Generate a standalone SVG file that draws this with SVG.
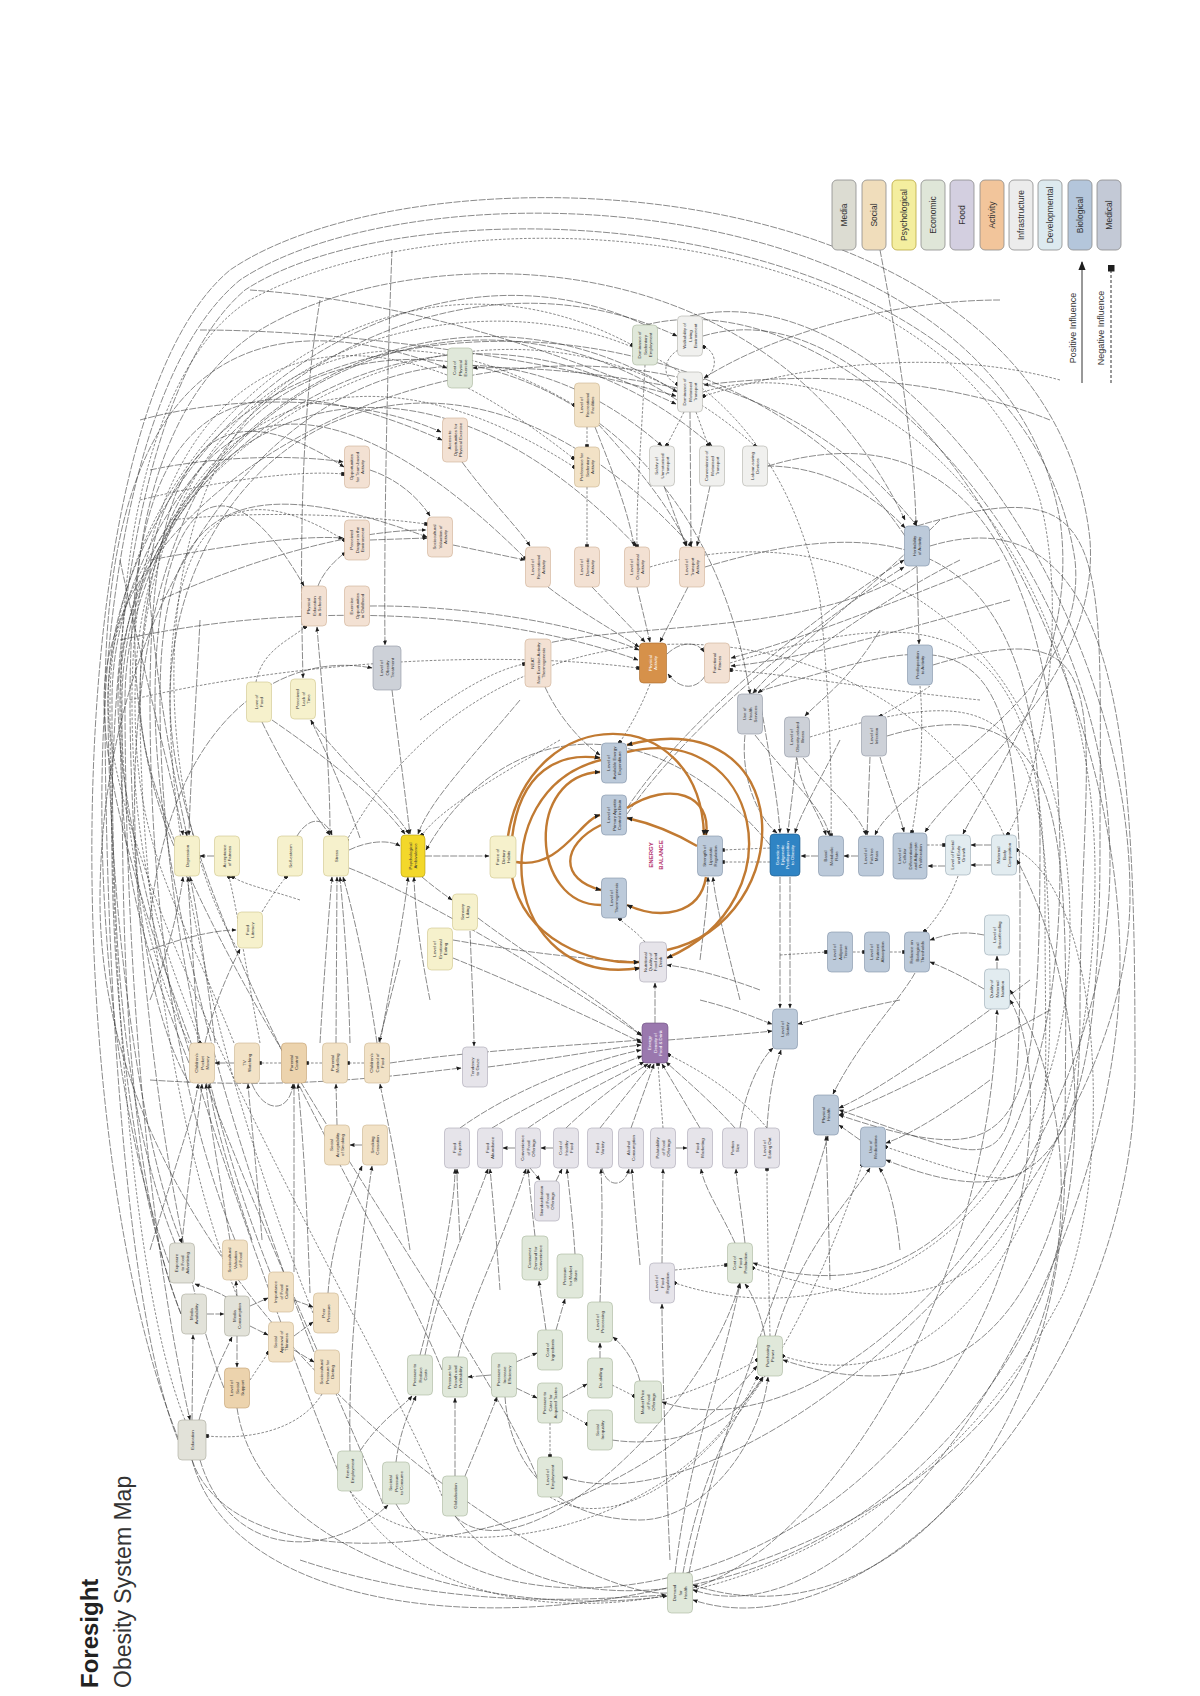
<svg xmlns="http://www.w3.org/2000/svg" width="1200" height="1696" viewBox="0 0 1200 1696">
<defs>
<marker id="a" viewBox="0 0 10 10" refX="9" refY="5" markerWidth="5" markerHeight="5" markerUnits="userSpaceOnUse" orient="auto"><path d="M0,1 L10,5 L0,9 Z" fill="#1e1e1e"/></marker>
<marker id="s" viewBox="0 0 10 10" refX="5" refY="5" markerWidth="3.6" markerHeight="3.6" markerUnits="userSpaceOnUse" orient="auto"><rect x="0" y="0" width="10" height="10" fill="#1e1e1e"/></marker>
<marker id="oa" viewBox="0 0 10 10" refX="9" refY="5" markerWidth="6" markerHeight="6" markerUnits="userSpaceOnUse" orient="auto"><path d="M0,1 L10,5 L0,9 Z" fill="#1e1e1e"/></marker>
<marker id="la" viewBox="0 0 10 10" refX="9" refY="5" markerWidth="9" markerHeight="9" markerUnits="userSpaceOnUse" orient="auto"><path d="M0,1 L10,5 L0,9 Z" fill="#1e1e1e"/></marker>
<marker id="ls" viewBox="0 0 10 10" refX="5" refY="5" markerWidth="7" markerHeight="7" markerUnits="userSpaceOnUse" orient="auto"><rect x="0" y="0" width="10" height="10" fill="#1e1e1e"/></marker>
</defs>
<style>
.p{fill:none;stroke:#3a3a3a;stroke-width:.6;stroke-dasharray:7 1.4;marker-end:url(#a)}
.n{fill:none;stroke:#3a3a3a;stroke-width:.6;stroke-dasharray:2.6 1.6;marker-end:url(#s)}
.o{fill:none;stroke:#c17a32;stroke-width:2.4;marker-end:url(#oa)}
.nd rect{stroke-width:.6}
.nd text{font-family:"Liberation Sans",Arial,sans-serif;font-size:4.4px;fill:#333;text-anchor:middle}
.m rect{fill:#e2e2d9;stroke:#a9a99c}
.so rect{fill:#f2e2c6;stroke:#c9b48e}
.so2 rect{fill:#ecd3ad;stroke:#c2a070}
.ps rect{fill:#f6f1cc;stroke:#cfc58a}
.py rect{fill:#f3d82a;stroke:#b59c10}
.ec rect{fill:#e0e8da;stroke:#a8b69c}
.fd rect{fill:#e6e4ea;stroke:#aaa6b4}
.ac rect{fill:#f3e1d3;stroke:#cfae94}
.pa rect{fill:#d6914a;stroke:#a86a2a}
.in rect{fill:#f0f0ee;stroke:#b0b0aa}
.dv rect{fill:#e2ecf0;stroke:#98aab3}
.bi rect{fill:#bccada;stroke:#7f91a6}
.bb rect{fill:#2f84c4;stroke:#1f5a8a}
.md rect{fill:#cdd1d8;stroke:#8e96a3}
.pu rect{fill:#9a78ae;stroke:#6e5282}
.pa text,.bb text,.pu text{fill:#fff}
.lg rect{stroke:#8a8a8a;stroke-width:.8}
.lg text{font-family:"Liberation Sans",Arial,sans-serif;font-size:8.5px;fill:#333;text-anchor:middle}
.eb{font-family:"Liberation Sans",Arial,sans-serif;font-size:6px;font-weight:bold;fill:#b4326e;text-anchor:middle}
</style>
<rect width="1200" height="1696" fill="#fff"/>

<g id="connectors">
<path class="n" d="M678,350 C662,360 662,378 677,384"/>
<path class="n" d="M703,380 C718,372 718,352 704,347"/>
<path class="n" d="M684,412 L667,445"/>
<path class="n" d="M696,412 L708,445"/>
<path class="p" d="M690,412 L691,546"/>
<path class="p" d="M664,486 L686,546"/>
<path class="p" d="M710,486 L697,546"/>
<path class="p" d="M767,466 C830,466 880,500 905,528"/>
<path class="n" d="M645,365 C642,430 636,500 637,546"/>
<path class="n" d="M587,427 L587,446"/>
<path class="n" d="M587,487 L587,546"/>
<path class="p" d="M595,427 C612,470 628,510 634,546"/>
<path class="p" d="M598,424 C640,470 672,510 687,546"/>
<path class="p" d="M677,388 C600,372 520,366 473,368"/>
<path class="p" d="M462,462 C490,500 520,530 530,546"/>
<path class="p" d="M370,470 C400,480 420,500 430,516"/>
<path class="p" d="M453,545 L525,560"/>
<path class="p" d="M370,540 L427,538"/>
<path class="p" d="M318,586 C324,570 338,558 346,552"/>
<path class="p" d="M370,606 C450,605 570,620 639,650"/>
<path class="p" d="M150,920 C170,720 280,650 372,668"/>
<path class="p" d="M392,690 L410,834"/>
<path class="p" d="M392,250 C386,400 384,560 385,645"/>
<path class="p" d="M330,835 C330,760 322,690 317,627"/>
<path class="p" d="M150,470 C220,455 300,455 343,462"/>
<path class="n" d="M140,500 C220,480 300,470 343,474"/>
<path class="p" d="M150,560 C230,545 300,535 343,538"/>
<path class="p" d="M160,600 C250,560 350,530 426,530"/>
<path class="n" d="M170,520 C260,510 360,515 426,524"/>
<path class="p" d="M140,420 C250,390 370,400 441,432"/>
<path class="p" d="M1050,420 C950,380 820,370 704,385"/>
<path class="n" d="M1060,380 C950,350 820,360 704,396"/>
<path class="p" d="M1000,300 C900,300 780,330 704,378"/>
<path class="p" d="M200,330 C350,330 550,360 676,396"/>
<path class="p" d="M250,290 C400,300 560,350 676,404"/>
<path class="n" d="M468,388 C510,410 550,440 573,458"/>
<path class="p" d="M548,587 C580,612 618,633 639,647"/>
<path class="p" d="M592,587 L645,642"/>
<path class="p" d="M637,587 L650,642"/>
<path class="p" d="M688,587 L660,642"/>
<path class="p" d="M667,654 C682,640 698,642 704,652"/>
<path class="p" d="M705,676 C696,690 680,690 668,674"/>
<path class="n" d="M420,720 C460,690 495,670 524,664"/>
<path class="n" d="M650,684 C640,710 628,730 620,742"/>
<path class="p" d="M545,687 C560,720 585,745 600,755"/>
<path class="p" d="M120,640 C300,600 500,610 638,660"/>
<path class="n" d="M130,700 C300,660 500,650 638,668"/>
<path class="p" d="M1000,560 C900,600 800,640 731,658"/>
<path class="p" d="M1010,600 C900,630 800,660 731,666"/>
<path class="n" d="M980,700 C880,690 790,675 731,670"/>
<path class="p" d="M960,560 C880,600 800,660 758,693"/>
<path class="p" d="M940,520 C860,600 790,650 753,693"/>
<path class="p" d="M745,735 C740,780 760,820 777,833"/>
<path class="p" d="M755,735 C790,780 825,810 829,835"/>
<path class="p" d="M880,630 C850,680 820,700 805,716"/>
<path class="p" d="M797,758 C800,790 820,815 826,835"/>
<path class="p" d="M803,758 C830,790 860,815 866,835"/>
<path class="n" d="M930,686 C910,700 890,710 881,716"/>
<path class="p" d="M870,757 L867,835"/>
<path class="p" d="M880,757 C890,790 900,815 904,832"/>
<path class="n" d="M920,686 C925,740 918,800 912,832"/>
<path class="p" d="M917,567 L919,644"/>
<path class="p" d="M880,250 C905,380 915,470 916,525"/>
<path class="n" d="M927,845 L944,845"/>
<path class="p" d="M945,866 L928,866"/>
<path class="p" d="M991,845 L971,845"/>
<path class="p" d="M991,865 L971,865"/>
<path class="n" d="M958,876 C950,900 935,920 925,931"/>
<path class="n" d="M770,848 L723,850"/>
<path class="n" d="M770,862 L723,862"/>
<path class="p" d="M818,856 L801,856"/>
<path class="p" d="M858,856 L844,856"/>
<path class="n" d="M780,955 L826,952"/>
<path class="n" d="M853,952 L864,952"/>
<path class="n" d="M890,952 L904,952"/>
<path class="p" d="M984,935 C960,930 945,935 930,940"/>
<path class="p" d="M984,989 C960,975 945,968 930,962"/>
<path class="p" d="M997,969 L997,956"/>
<path class="p" d="M915,973 C900,1000 860,1040 833,1094"/>
<path class="p" d="M860,1140 L839,1125"/>
<path class="p" d="M900,1250 C895,1200 885,1175 879,1168"/>
<path class="p" d="M830,1280 C828,1200 827,1160 826,1136"/>
<path class="p" d="M1030,980 C950,1040 880,1090 839,1108"/>
<path class="p" d="M1050,1010 C960,1060 880,1100 839,1115"/>
<path class="p" d="M990,1080 C950,1110 910,1135 886,1143"/>
<path class="p" d="M780,877 L780,1008"/>
<path class="p" d="M790,877 L790,1008"/>
<path class="p" d="M700,1000 C740,1010 760,1020 772,1024"/>
<path class="p" d="M900,1000 C850,1010 815,1020 798,1024"/>
<path class="p" d="M760,700 C770,760 778,800 780,833"/>
<path class="p" d="M800,720 C795,780 790,810 788,833"/>
<path class="p" d="M840,740 C815,790 800,815 795,833"/>
<path class="p" d="M700,960 C705,920 708,895 708,877"/>
<path class="p" d="M740,1000 C725,940 715,900 713,877"/>
<path class="n" d="M645,942 C635,930 625,925 620,919"/>
<path class="p" d="M453,940 C540,955 600,960 638,962"/>
<path class="p" d="M760,990 C720,975 690,968 667,965"/>
<path class="p" d="M627,808 C700,700 840,600 904,560"/>
<path class="p" d="M627,814 C702,706 842,606 904,567"/>
<path class="p" d="M214,856 L200,856"/>
<path class="p" d="M150,1000 C170,950 180,900 183,877"/>
<path class="p" d="M215,1043 C205,960 195,900 190,877"/>
<path class="p" d="M120,560 C150,700 175,790 183,835"/>
<path class="p" d="M200,620 C195,720 190,790 189,835"/>
<path class="n" d="M260,1043 C245,960 235,900 229,877"/>
<path class="n" d="M300,900 C270,890 245,885 233,877"/>
<path class="p" d="M297,836 C310,815 325,818 332,835"/>
<path class="n" d="M262,912 C272,895 282,882 286,877"/>
<path class="p" d="M320,1043 C325,960 330,900 332,877"/>
<path class="p" d="M336,1043 L337,877"/>
<path class="p" d="M350,1043 C348,960 342,900 340,877"/>
<path class="p" d="M377,1043 C365,960 350,900 343,877"/>
<path class="p" d="M262,722 C290,780 315,815 330,835"/>
<path class="p" d="M349,850 C370,840 390,840 400,846"/>
<path class="p" d="M349,868 C430,900 560,980 641,1035"/>
<path class="p" d="M272,720 C330,760 380,800 405,834"/>
<path class="p" d="M310,720 C350,770 395,810 409,834"/>
<path class="p" d="M520,700 C470,760 430,800 418,834"/>
<path class="n" d="M560,740 C490,780 440,810 422,835"/>
<path class="p" d="M380,1043 C395,960 405,910 408,877"/>
<path class="p" d="M430,1000 C420,950 415,910 414,877"/>
<path class="p" d="M425,856 L489,856"/>
<path class="p" d="M422,877 C435,888 445,895 452,900"/>
<path class="p" d="M478,918 C520,950 600,1000 642,1036"/>
<path class="p" d="M453,958 C520,985 600,1022 642,1043"/>
<path class="p" d="M150,950 C190,935 220,930 236,930"/>
<path class="n" d="M256,682 C262,650 290,640 305,627"/>
<path class="p" d="M360,838 C340,780 320,740 311,720"/>
<path class="p" d="M320,300 C300,420 300,560 303,678"/>
<path class="p" d="M234,1063 L215,1063"/>
<path class="n" d="M281,1063 L260,1063"/>
<path class="n" d="M322,1063 L307,1063"/>
<path class="n" d="M364,1063 L348,1063"/>
<path class="p" d="M252,1084 C265,1115 290,1112 293,1084"/>
<path class="p" d="M362,1145 L350,1145"/>
<path class="p" d="M337,1125 L336,1084"/>
<path class="p" d="M150,1250 C180,1150 195,1110 198,1084"/>
<path class="p" d="M182,1243 C190,1160 200,1110 202,1084"/>
<path class="p" d="M230,1240 C215,1150 208,1110 206,1084"/>
<path class="p" d="M252,1240 C225,1160 212,1110 209,1084"/>
<path class="p" d="M205,1043 C215,1000 230,970 240,949"/>
<path class="p" d="M198,1043 C195,980 190,920 188,877"/>
<path class="p" d="M262,1240 C255,1150 250,1110 248,1084"/>
<path class="p" d="M294,1272 L294,1084"/>
<path class="p" d="M310,1293 C305,1150 300,1110 298,1084"/>
<path class="p" d="M410,1250 C395,1150 385,1110 380,1084"/>
<path class="p" d="M400,960 C390,1000 382,1030 379,1042"/>
<path class="p" d="M515,1148 L503,1148"/>
<path class="p" d="M553,1148 L541,1148"/>
<path class="p" d="M676,1148 L687,1148"/>
<path class="p" d="M460,1128 C520,1085 600,1058 641,1050"/>
<path class="p" d="M492,1128 C555,1090 615,1066 642,1056"/>
<path class="p" d="M528,1128 C575,1095 625,1072 644,1062"/>
<path class="p" d="M566,1128 C595,1100 630,1075 648,1064"/>
<path class="p" d="M600,1128 L651,1064"/>
<path class="p" d="M631,1128 L654,1064"/>
<path class="n" d="M663,1128 L658,1064"/>
<path class="p" d="M700,1128 L662,1064"/>
<path class="p" d="M735,1128 C710,1100 680,1075 666,1062"/>
<path class="n" d="M767,1128 C740,1095 700,1070 669,1055"/>
<path class="p" d="M488,1067 C560,1058 610,1048 641,1045"/>
<path class="p" d="M655,1023 L655,983"/>
<path class="p" d="M470,931 C472,980 474,1020 474,1046"/>
<path class="p" d="M150,1080 C300,1090 400,1075 461,1068"/>
<path class="p" d="M530,1168 L540,1180"/>
<path class="p" d="M556,1181 L562,1169"/>
<path class="p" d="M460,1240 C458,1200 457,1185 457,1169"/>
<path class="p" d="M420,1355 C450,1240 455,1190 455,1169"/>
<path class="p" d="M500,1290 C495,1220 492,1190 490,1169"/>
<path class="p" d="M535,1236 C532,1210 530,1190 528,1169"/>
<path class="p" d="M575,1254 C572,1210 569,1190 567,1169"/>
<path class="p" d="M600,1302 C603,1220 602,1190 601,1169"/>
<path class="p" d="M640,1265 C636,1220 633,1190 632,1169"/>
<path class="p" d="M662,1263 L663,1169"/>
<path class="p" d="M735,1243 C720,1210 705,1190 701,1169"/>
<path class="p" d="M745,1243 C740,1200 737,1185 736,1169"/>
<path class="n" d="M770,1336 C768,1250 767,1200 767,1169"/>
<path class="p" d="M602,1168 C607,1188 624,1188 629,1169"/>
<path class="p" d="M767,1128 C770,1080 778,1060 781,1050"/>
<path class="p" d="M740,1128 C745,1090 760,1060 773,1048"/>
<path class="p" d="M390,1063 C480,1050 580,1045 641,1040"/>
<path class="p" d="M668,1040 C720,1036 755,1033 772,1031"/>
<path class="p" d="M491,1375 L468,1377"/>
<path class="p" d="M516,1362 L537,1353"/>
<path class="p" d="M516,1388 L537,1398"/>
<path class="p" d="M562,1398 L587,1384"/>
<path class="n" d="M562,1410 L587,1424"/>
<path class="p" d="M600,1358 L600,1343"/>
<path class="n" d="M612,1385 L634,1396"/>
<path class="n" d="M550,1423 L550,1456"/>
<path class="p" d="M640,1381 C635,1362 625,1347 613,1337"/>
<path class="p" d="M546,1330 L539,1281"/>
<path class="p" d="M556,1330 L565,1299"/>
<path class="p" d="M455,1476 L455,1398"/>
<path class="p" d="M465,1476 C480,1440 492,1410 497,1397"/>
<path class="p" d="M505,1397 C510,1470 560,1520 640,1520 C700,1520 760,1450 768,1377"/>
<path class="p" d="M612,1440 C680,1450 740,1420 763,1377"/>
<path class="n" d="M662,1400 C700,1390 740,1370 757,1360"/>
<path class="p" d="M765,1336 C760,1310 750,1290 745,1284"/>
<path class="p" d="M775,1336 C800,1250 850,1200 870,1168"/>
<path class="p" d="M670,1560 C665,1450 662,1350 662,1304"/>
<path class="n" d="M675,1270 L726,1265"/>
<path class="p" d="M675,1573 C690,1450 720,1380 740,1284"/>
<path class="p" d="M683,1573 C700,1480 730,1420 763,1377"/>
<path class="p" d="M689,1573 C720,1420 780,1300 828,1136"/>
<path class="p" d="M693,1588 C820,1550 990,1300 997,1010"/>
<path class="p" d="M300,1560 C450,1610 580,1600 666,1595"/>
<path class="p" d="M207,1314 L224,1314"/>
<path class="p" d="M237,1296 L236,1281"/>
<path class="p" d="M228,1298 C215,1290 200,1286 195,1284"/>
<path class="p" d="M237,1336 L237,1367"/>
<path class="p" d="M250,1306 L268,1298"/>
<path class="p" d="M250,1326 L268,1335"/>
<path class="n" d="M250,1380 L268,1353"/>
<path class="p" d="M294,1300 L313,1307"/>
<path class="p" d="M294,1336 L313,1322"/>
<path class="p" d="M294,1350 L314,1362"/>
<path class="p" d="M192,1420 L193,1335"/>
<path class="p" d="M199,1420 C210,1380 225,1352 232,1337"/>
<path class="n" d="M322,1394 C300,1430 250,1440 207,1436"/>
<path class="p" d="M328,1293 C332,1240 348,1200 362,1166"/>
<path class="p" d="M396,1462 C400,1430 410,1410 416,1396"/>
<path class="p" d="M360,1451 C380,1420 405,1405 412,1396"/>
<path class="p" d="M200,1460 C230,1560 330,1560 388,1505"/>
<path class="p" d="M350,1451 C348,1350 360,1250 372,1166"/>
<path class="p" d="M425,1355 C440,1280 470,1220 488,1169"/>
<path class="p" d="M458,1357 C470,1300 500,1250 526,1169"/>
<path class="p" d="M175,1243 C115,1093 112,900 112,700 C112,450 417,215 677,336"/>
<path class="p" d="M181,1314 C121,1164 122,900 122,700 C122,450 417,230 677,392"/>
<path class="p" d="M178,1440 C118,1290 105,900 105,700 C105,450 187,270 447,368"/>
<path class="n" d="M237,1296 C177,1146 140,900 140,700 C140,450 314,250 574,405"/>
<path class="p" d="M235,1240 C175,1090 150,900 150,700 C150,450 210,380 344,467"/>
<path class="p" d="M224,1388 C164,1238 130,900 130,700 C130,450 190,330 442,440"/>
<path class="n" d="M185,1420 C125,1270 110,900 110,700 C110,450 372,205 632,345"/>
<path class="p" d="M270,1272 C210,1122 160,900 160,700 C160,520 220,460 427,537"/>
<path class="p" d="M442,1370 C382,1220 170,900 170,700 C170,450 432,260 692,547"/>
<path class="p" d="M338,1471 C278,1321 118,900 118,700 C118,450 452,220 712,446"/>
<path class="n" d="M442,1496 C382,1346 108,900 108,700 C108,450 495,210 755,446"/>
<path class="p" d="M383,1504 C323,1354 104,900 104,700 C104,430 657,200 917,526"/>
<path class="p" d="M667,1593 C560,1600 100,1300 100,900 C100,500 402,220 662,446"/>
<path class="p" d="M537,1477 C477,1327 140,900 140,700 C140,450 267,300 527,560"/>
<path class="n" d="M313,1313 C253,1163 170,900 170,700 C170,520 230,470 344,540"/>
<path class="p" d="M314,1352 C254,1202 155,900 155,700 C155,520 215,430 304,586"/>
<path class="p" d="M189,1063 C129,913 120,850 120,700 C120,450 377,270 637,547"/>
<path class="n" d="M234,1043 C174,893 135,850 135,700 C135,450 314,300 574,467"/>
<path class="p" d="M677,400 C417,230 125,450 125,700 C125,900 140,1200 190,1420"/>
<path class="n" d="M447,375 C250,300 132,450 132,700 C132,900 180,980 200,1043"/>
<path class="p" d="M645,325 C400,210 108,450 108,700 C108,900 140,1150 182,1243"/>
<path class="p" d="M905,536 C700,230 130,310 150,600 C160,720 180,800 187,836"/>
<path class="p" d="M703,336 C903,276 1120,663 1120,963 C1120,1263 873,1650 693,1590"/>
<path class="n" d="M703,392 C903,332 1095,574 1095,874 C1095,1174 963,1416 783,1356"/>
<path class="p" d="M768,466 C968,406 1060,565 1060,865 C1060,1165 933,1323 753,1263"/>
<path class="p" d="M705,567 C905,507 1040,541 1040,841 C1040,1141 1019,1175 839,1115"/>
<path class="n" d="M730,663 C930,603 1045,605 1045,905 C1045,1205 1066,1207 886,1147"/>
<path class="p" d="M930,546 C1130,486 1135,773 1135,1073 C1135,1373 873,1660 693,1600"/>
<path class="p" d="M933,665 C1133,605 1080,712 1080,1012 C1080,1312 963,1420 783,1360"/>
<path class="p" d="M645,325 C845,275 1110,563 1110,863 C1110,1163 842,1462 662,1402"/>
<path class="n" d="M650,567 C850,507 1070,625 1070,925 C1070,1225 855,1343 675,1283"/>
<path class="p" d="M690,316 C890,270 1130,596 1130,896 C1130,1196 743,1537 563,1477"/>
<path class="p" d="M887,736 C1087,676 1065,860 1065,1160 C1065,1460 873,1645 693,1585"/>
<path class="n" d="M810,737 C1010,677 1050,702 1050,1002 C1050,1302 933,1328 753,1268"/>
<path class="p" d="M750,694 C950,634 1020,602 1020,902 C1020,1202 1019,1170 839,1110"/>
<path class="p" d="M917,526 C1117,466 1100,546 1100,846 C1100,1146 1053,1227 886,1160"/>
<path class="p" d="M174,846 C110,700 115,420 260,330 C400,245 760,220 905,520"/>
<path class="n" d="M189,1043 C90,850 90,400 250,300 C450,190 950,210 1040,500 C1070,620 1040,780 1008,834"/>
<path class="p" d="M169,1263 C70,1000 70,420 240,280 C420,160 1000,180 1060,520 C1080,660 990,780 963,834"/>
<path class="p" d="M179,1440 C60,1150 50,420 230,270 C420,140 1050,160 1090,540 C1100,680 960,780 925,832"/>
<path class="n" d="M237,948 C150,800 140,480 290,380 C440,280 760,280 820,600 C830,700 832,780 831,835"/>
<path class="p" d="M181,1314 C80,1050 80,430 245,290 C420,175 1020,200 1075,560 C1090,700 900,780 875,835"/>
<path class="p" d="M189,1083 C110,950 100,520 275,400 C420,300 700,380 750,694"/>
<path class="p" d="M192,1460 C240,1600 600,1560 757,1366"/>
<path class="n" d="M350,1491 C420,1580 680,1540 757,1378"/>
<path class="p" d="M237,1408 C260,1560 500,1620 667,1596"/>
<path class="p" d="M455,1516 C520,1580 700,1420 740,1283"/>
<path class="n" d="M550,1497 C620,1540 760,1470 862,1165"/>
<path class="p" d="M192,1460 C250,1680 800,1650 1000,1400 C1080,1300 1080,1100 1010,990"/>
<path class="p" d="M396,1504 C480,1650 850,1620 990,1300 C1040,1180 1040,1050 1010,1000"/>
<path class="p" d="M455,1516 C560,1660 900,1600 1040,1300 C1090,1180 1090,1000 1017,860"/>
<path class="n" d="M350,1491 C450,1680 880,1640 1060,1300 C1110,1200 1110,900 1017,850"/>
<path class="p" d="M770,845 C650,700 500,720 426,850"/>
<path class="n" d="M1004,835 C900,600 500,560 347,840"/>
<path class="p" d="M917,566 C820,640 600,620 525,650"/>
<path class="o" d="M512,838 C520,770 560,752 600,758"/>
<path class="o" d="M512,877 C525,940 590,965 639,962"/>
<path class="o" d="M627,752 C760,720 800,900 667,958"/>
<path class="o" d="M627,808 C670,780 712,795 706,835"/>
<path class="o" d="M706,877 C700,915 660,920 627,905"/>
<path class="o" d="M508,836 C530,700 700,700 704,835"/>
<path class="o" d="M601,905 C530,905 525,775 600,772"/>
<path class="o" d="M667,950 C800,920 800,700 627,745"/>
<path class="o" d="M601,760 C480,790 500,990 640,968"/>
<path class="o" d="M601,825 C560,845 560,880 601,890"/>
<path class="o" d="M516,862 C560,870 580,820 600,815"/>
<path class="o" d="M697,846 C670,830 645,822 627,818"/>
</g>

<text class="eb" transform="translate(656 855) rotate(-90)"><tspan x="0" y="-3">ENERGY</tspan><tspan x="0" y="6.5">BALANCE</tspan></text>

<g id="nodes">
<g id="n1" class="nd ec"><rect x="447.5" y="348" width="25" height="40" rx="4"/><text transform="translate(460 368) rotate(-90)"><tspan x="0" y="-3.7">Cost of</tspan><tspan x="0" y="1.5">Physical</tspan><tspan x="0" y="6.7">Exercise</tspan></text></g>
<g id="n2" class="nd ac"><rect x="442.5" y="418" width="25" height="44" rx="4"/><text transform="translate(455 440) rotate(-90)"><tspan x="0" y="-3.7">Access to</tspan><tspan x="0" y="1.5">Opportunities for</tspan><tspan x="0" y="6.7">Physical Exercise</tspan></text></g>
<g id="n3" class="nd ac"><rect x="344.5" y="446" width="25" height="42" rx="4"/><text transform="translate(357 467) rotate(-90)"><tspan x="0" y="-3.7">Opportunities</tspan><tspan x="0" y="1.5">for Team-based</tspan><tspan x="0" y="6.7">Activity</tspan></text></g>
<g id="n4" class="nd ac"><rect x="344.5" y="520" width="25" height="40" rx="4"/><text transform="translate(357 540) rotate(-90)"><tspan x="0" y="-3.7">Perceived</tspan><tspan x="0" y="1.5">Danger in the</tspan><tspan x="0" y="6.7">Environment</tspan></text></g>
<g id="n5" class="nd ac"><rect x="301.5" y="586" width="25" height="40" rx="4"/><text transform="translate(314 606) rotate(-90)"><tspan x="0" y="-3.7">Physical</tspan><tspan x="0" y="1.5">Education</tspan><tspan x="0" y="6.7">in Schools</tspan></text></g>
<g id="n6" class="nd ac"><rect x="344.5" y="586" width="25" height="40" rx="4"/><text transform="translate(357 606) rotate(-90)"><tspan x="0" y="-3.7">Exercise</tspan><tspan x="0" y="1.5">Opportunities</tspan><tspan x="0" y="6.7">in Childhood</tspan></text></g>
<g id="n7" class="nd ac"><rect x="427.5" y="517" width="25" height="40" rx="4"/><text transform="translate(440 537) rotate(-90)"><tspan x="0" y="-3.7">Sociocultural</tspan><tspan x="0" y="1.5">Valuation of</tspan><tspan x="0" y="6.7">Activity</tspan></text></g>
<g id="n8" class="nd so"><rect x="574.5" y="383" width="25" height="44" rx="4"/><text transform="translate(587 405) rotate(-90)"><tspan x="0" y="-3.7">Level of</tspan><tspan x="0" y="1.5">Recreational</tspan><tspan x="0" y="6.7">Facilities</tspan></text></g>
<g id="n9" class="nd so"><rect x="574.5" y="447" width="25" height="40" rx="4"/><text transform="translate(587 467) rotate(-90)"><tspan x="0" y="-3.7">Preference for</tspan><tspan x="0" y="1.5">Sedentary</tspan><tspan x="0" y="6.7">Activity</tspan></text></g>
<g id="n10" class="nd ec"><rect x="632.5" y="325" width="25" height="40" rx="4"/><text transform="translate(645 345) rotate(-90)"><tspan x="0" y="-3.7">Dominance of</tspan><tspan x="0" y="1.5">Sedentary</tspan><tspan x="0" y="6.7">Employment</tspan></text></g>
<g id="n11" class="nd in"><rect x="677.5" y="316" width="25" height="40" rx="4"/><text transform="translate(690 336) rotate(-90)"><tspan x="0" y="-3.7">Walkability of</tspan><tspan x="0" y="1.5">Living</tspan><tspan x="0" y="6.7">Environment</tspan></text></g>
<g id="n12" class="nd in"><rect x="677.5" y="372" width="25" height="40" rx="4"/><text transform="translate(690 392) rotate(-90)"><tspan x="0" y="-3.7">Dominance of</tspan><tspan x="0" y="1.5">Motorised</tspan><tspan x="0" y="6.7">Transport</tspan></text></g>
<g id="n13" class="nd in"><rect x="649.5" y="446" width="25" height="40" rx="4"/><text transform="translate(662 466) rotate(-90)"><tspan x="0" y="-3.7">Safety of</tspan><tspan x="0" y="1.5">Unmotorised</tspan><tspan x="0" y="6.7">Transport</tspan></text></g>
<g id="n14" class="nd in"><rect x="699.5" y="446" width="25" height="40" rx="4"/><text transform="translate(712 466) rotate(-90)"><tspan x="0" y="-3.7">Convenience of</tspan><tspan x="0" y="1.5">Motorised</tspan><tspan x="0" y="6.7">Transport</tspan></text></g>
<g id="n15" class="nd in"><rect x="742.5" y="446" width="25" height="40" rx="4"/><text transform="translate(755 466) rotate(-90)"><tspan x="0" y="-1.1">Labour-saving</tspan><tspan x="0" y="4.1">Devices</tspan></text></g>
<g id="n16" class="nd ac"><rect x="525.5" y="547" width="25" height="40" rx="4"/><text transform="translate(538 567) rotate(-90)"><tspan x="0" y="-3.7">Level of</tspan><tspan x="0" y="1.5">Recreational</tspan><tspan x="0" y="6.7">Activity</tspan></text></g>
<g id="n17" class="nd ac"><rect x="574.5" y="547" width="25" height="40" rx="4"/><text transform="translate(587 567) rotate(-90)"><tspan x="0" y="-3.7">Level of</tspan><tspan x="0" y="1.5">Domestic</tspan><tspan x="0" y="6.7">Activity</tspan></text></g>
<g id="n18" class="nd ac"><rect x="624.5" y="547" width="25" height="40" rx="4"/><text transform="translate(637 567) rotate(-90)"><tspan x="0" y="-3.7">Level of</tspan><tspan x="0" y="1.5">Occupational</tspan><tspan x="0" y="6.7">Activity</tspan></text></g>
<g id="n19" class="nd ac"><rect x="679.5" y="547" width="25" height="40" rx="4"/><text transform="translate(692 567) rotate(-90)"><tspan x="0" y="-3.7">Level of</tspan><tspan x="0" y="1.5">Transport</tspan><tspan x="0" y="6.7">Activity</tspan></text></g>
<g id="n20" class="nd pa"><rect x="639.5" y="643" width="27" height="40" rx="4"/><text transform="translate(653 663) rotate(-90)"><tspan x="0" y="-1.1">Physical</tspan><tspan x="0" y="4.1">Activity</tspan></text></g>
<g id="n21" class="nd ac"><rect x="704.5" y="643" width="25" height="40" rx="4"/><text transform="translate(717 663) rotate(-90)"><tspan x="0" y="-1.1">Functional</tspan><tspan x="0" y="4.1">Fitness</tspan></text></g>
<g id="n22" class="nd ac"><rect x="525" y="639" width="26" height="48" rx="4"/><text transform="translate(538 663) rotate(-90)"><tspan x="0" y="-3.7">NEAT</tspan><tspan x="0" y="1.5">Non Exercise Activity</tspan><tspan x="0" y="6.7">Thermogenesis</tspan></text></g>
<g id="n23" class="nd md"><rect x="737.5" y="694" width="25" height="40" rx="4"/><text transform="translate(750 714) rotate(-90)"><tspan x="0" y="-3.7">Use of</tspan><tspan x="0" y="1.5">Health</tspan><tspan x="0" y="6.7">Services</tspan></text></g>
<g id="n24" class="nd md"><rect x="784.5" y="717" width="25" height="40" rx="4"/><text transform="translate(797 737) rotate(-90)"><tspan x="0" y="-3.7">Level of</tspan><tspan x="0" y="1.5">Obesity-related</tspan><tspan x="0" y="6.7">Illness</tspan></text></g>
<g id="n25" class="nd md"><rect x="861.5" y="716" width="25" height="40" rx="4"/><text transform="translate(874 736) rotate(-90)"><tspan x="0" y="-1.1">Level of</tspan><tspan x="0" y="4.1">Infection</tspan></text></g>
<g id="n26" class="nd bi"><rect x="904.5" y="526" width="25" height="40" rx="4"/><text transform="translate(917 546) rotate(-90)"><tspan x="0" y="-1.1">Heritability</tspan><tspan x="0" y="4.1">of Activity</tspan></text></g>
<g id="n27" class="nd bi"><rect x="907.5" y="645" width="25" height="40" rx="4"/><text transform="translate(920 665) rotate(-90)"><tspan x="0" y="-1.1">Predisposition</tspan><tspan x="0" y="4.1">to Activity</tspan></text></g>
<g id="n28" class="nd md"><rect x="373" y="646" width="28" height="44" rx="4"/><text transform="translate(387 668) rotate(-90)"><tspan x="0" y="-3.7">Level of</tspan><tspan x="0" y="1.5">Obesity</tspan><tspan x="0" y="6.7">Treatment</tspan></text></g>
<g id="n29" class="nd ps"><rect x="246.5" y="682" width="25" height="40" rx="4"/><text transform="translate(259 702) rotate(-90)"><tspan x="0" y="-1.1">Love of</tspan><tspan x="0" y="4.1">Food</tspan></text></g>
<g id="n30" class="nd ps"><rect x="290.5" y="679" width="25" height="40" rx="4"/><text transform="translate(303 699) rotate(-90)"><tspan x="0" y="-3.7">Perceived</tspan><tspan x="0" y="1.5">Lack of</tspan><tspan x="0" y="6.7">Time</tspan></text></g>
<g id="n31" class="nd ps"><rect x="174.5" y="836" width="25" height="40" rx="4"/><text transform="translate(187 856) rotate(-90)"><tspan x="0" y="1.5">Depression</tspan></text></g>
<g id="n32" class="nd ps"><rect x="214.5" y="836" width="25" height="40" rx="4"/><text transform="translate(227 856) rotate(-90)"><tspan x="0" y="-1.1">Acceptance</tspan><tspan x="0" y="4.1">of Fatness</tspan></text></g>
<g id="n33" class="nd ps"><rect x="277.5" y="836" width="25" height="40" rx="4"/><text transform="translate(290 856) rotate(-90)"><tspan x="0" y="1.5">Self-esteem</tspan></text></g>
<g id="n34" class="nd ps"><rect x="323.5" y="836" width="25" height="40" rx="4"/><text transform="translate(336 856) rotate(-90)"><tspan x="0" y="1.5">Stress</tspan></text></g>
<g id="n35" class="nd py"><rect x="401" y="835" width="24" height="42" rx="4"/><text transform="translate(413 856) rotate(-90)"><tspan x="0" y="-1.1">Psychological</tspan><tspan x="0" y="4.1">Ambivalence</tspan></text></g>
<g id="n36" class="nd ps"><rect x="490" y="836" width="26" height="42" rx="4"/><text transform="translate(503 857) rotate(-90)"><tspan x="0" y="-3.7">Force of</tspan><tspan x="0" y="1.5">Dietary</tspan><tspan x="0" y="6.7">Habits</tspan></text></g>
<g id="n37" class="nd ps"><rect x="452.5" y="894" width="25" height="36" rx="4"/><text transform="translate(465 912) rotate(-90)"><tspan x="0" y="-1.1">Sensory</tspan><tspan x="0" y="4.1">Liking</tspan></text></g>
<g id="n38" class="nd ps"><rect x="427.5" y="928" width="25" height="42" rx="4"/><text transform="translate(440 949) rotate(-90)"><tspan x="0" y="-3.7">Level of</tspan><tspan x="0" y="1.5">Emotional</tspan><tspan x="0" y="6.7">Eating</tspan></text></g>
<g id="n39" class="nd ps"><rect x="237.5" y="912" width="25" height="36" rx="4"/><text transform="translate(250 930) rotate(-90)"><tspan x="0" y="-1.1">Food</tspan><tspan x="0" y="4.1">Literacy</tspan></text></g>
<g id="n40" class="nd bi"><rect x="601.5" y="743" width="25" height="40" rx="4"/><text transform="translate(614 763) rotate(-90)"><tspan x="0" y="-3.7">Level of</tspan><tspan x="0" y="1.5">Available Energy</tspan><tspan x="0" y="6.7">Expenditure</tspan></text></g>
<g id="n41" class="nd bi"><rect x="601.5" y="795" width="25" height="40" rx="4"/><text transform="translate(614 815) rotate(-90)"><tspan x="0" y="-3.7">Level of</tspan><tspan x="0" y="1.5">Primary Appetite</tspan><tspan x="0" y="6.7">Control in Brain</tspan></text></g>
<g id="n42" class="nd bi"><rect x="697.5" y="836" width="25" height="40" rx="4"/><text transform="translate(710 856) rotate(-90)"><tspan x="0" y="-3.7">Strength of</tspan><tspan x="0" y="1.5">Lipostatic</tspan><tspan x="0" y="6.7">Regulation</tspan></text></g>
<g id="n43" class="nd bi"><rect x="601.5" y="878" width="25" height="40" rx="4"/><text transform="translate(614 898) rotate(-90)"><tspan x="0" y="-1.1">Level of</tspan><tspan x="0" y="4.1">Thermogenesis</tspan></text></g>
<g id="n44" class="nd bb"><rect x="770" y="834" width="30" height="42" rx="4"/><text transform="translate(785 855) rotate(-90)"><tspan x="0" y="-6.3">Genetic or</tspan><tspan x="0" y="-1.1">Epigenetic</tspan><tspan x="0" y="4.1">Predisposition</tspan><tspan x="0" y="9.3">to Obesity</tspan></text></g>
<g id="n45" class="nd fd"><rect x="639.5" y="942" width="27" height="40" rx="4"/><text transform="translate(653 962) rotate(-90)"><tspan x="0" y="-6.3">Nutritional</tspan><tspan x="0" y="-1.1">Quality of</tspan><tspan x="0" y="4.1">Food and</tspan><tspan x="0" y="9.3">Drink</tspan></text></g>
<g id="n46" class="nd bi"><rect x="818.5" y="836" width="25" height="40" rx="4"/><text transform="translate(831 856) rotate(-90)"><tspan x="0" y="-3.7">Basal</tspan><tspan x="0" y="1.5">Metabolic</tspan><tspan x="0" y="6.7">Rate</tspan></text></g>
<g id="n47" class="nd bi"><rect x="858.5" y="836" width="25" height="40" rx="4"/><text transform="translate(871 856) rotate(-90)"><tspan x="0" y="-3.7">Level of</tspan><tspan x="0" y="1.5">Fat-free</tspan><tspan x="0" y="6.7">Mass</tspan></text></g>
<g id="n48" class="nd bi"><rect x="893" y="833" width="34" height="46" rx="4"/><text transform="translate(910 856) rotate(-90)"><tspan x="0" y="-8.9">Level of</tspan><tspan x="0" y="-3.7">Cellular</tspan><tspan x="0" y="1.5">Differentiation</tspan><tspan x="0" y="6.7">and Adipocyte</tspan><tspan x="0" y="11.9">Proliferation</tspan></text></g>
<g id="n49" class="nd dv"><rect x="945.5" y="835" width="25" height="40" rx="4"/><text transform="translate(958 855) rotate(-90)"><tspan x="0" y="-3.7">Level of Foetal</tspan><tspan x="0" y="1.5">and Early</tspan><tspan x="0" y="6.7">Growth</tspan></text></g>
<g id="n50" class="nd dv"><rect x="991.5" y="835" width="25" height="40" rx="4"/><text transform="translate(1004 855) rotate(-90)"><tspan x="0" y="-3.7">Maternal</tspan><tspan x="0" y="1.5">Body</tspan><tspan x="0" y="6.7">Composition</tspan></text></g>
<g id="n51" class="nd bi"><rect x="827.5" y="932" width="25" height="40" rx="4"/><text transform="translate(840 952) rotate(-90)"><tspan x="0" y="-3.7">Level of</tspan><tspan x="0" y="1.5">Adipose</tspan><tspan x="0" y="6.7">Tissue</tspan></text></g>
<g id="n52" class="nd bi"><rect x="864.5" y="932" width="25" height="40" rx="4"/><text transform="translate(877 952) rotate(-90)"><tspan x="0" y="-3.7">Level of</tspan><tspan x="0" y="1.5">Nutrient</tspan><tspan x="0" y="6.7">Absorption</tspan></text></g>
<g id="n53" class="nd bi"><rect x="904.5" y="932" width="25" height="40" rx="4"/><text transform="translate(917 952) rotate(-90)"><tspan x="0" y="-3.7">Reliance on</tspan><tspan x="0" y="1.5">Biological</tspan><tspan x="0" y="6.7">Thresholds</tspan></text></g>
<g id="n54" class="nd dv"><rect x="984.5" y="915" width="25" height="40" rx="4"/><text transform="translate(997 935) rotate(-90)"><tspan x="0" y="-1.1">Level of</tspan><tspan x="0" y="4.1">Breastfeeding</tspan></text></g>
<g id="n55" class="nd dv"><rect x="984.5" y="969" width="25" height="40" rx="4"/><text transform="translate(997 989) rotate(-90)"><tspan x="0" y="-3.7">Quality of</tspan><tspan x="0" y="1.5">Maternal</tspan><tspan x="0" y="6.7">Nutrition</tspan></text></g>
<g id="n56" class="nd bi"><rect x="772.5" y="1009" width="25" height="40" rx="4"/><text transform="translate(785 1029) rotate(-90)"><tspan x="0" y="-1.1">Level of</tspan><tspan x="0" y="4.1">Satiety</tspan></text></g>
<g id="n57" class="nd bi"><rect x="813.5" y="1095" width="25" height="40" rx="4"/><text transform="translate(826 1115) rotate(-90)"><tspan x="0" y="-1.1">Physical</tspan><tspan x="0" y="4.1">Health</tspan></text></g>
<g id="n58" class="nd bi"><rect x="860.5" y="1127" width="25" height="40" rx="4"/><text transform="translate(873 1147) rotate(-90)"><tspan x="0" y="-1.1">Use of</tspan><tspan x="0" y="4.1">Medications</tspan></text></g>
<g id="n59" class="nd fd"><rect x="444.5" y="1128" width="25" height="40" rx="4"/><text transform="translate(457 1148) rotate(-90)"><tspan x="0" y="-1.1">Food</tspan><tspan x="0" y="4.1">Exports</tspan></text></g>
<g id="n60" class="nd fd"><rect x="477.5" y="1128" width="25" height="40" rx="4"/><text transform="translate(490 1148) rotate(-90)"><tspan x="0" y="-1.1">Food</tspan><tspan x="0" y="4.1">Abundance</tspan></text></g>
<g id="n61" class="nd fd"><rect x="515.5" y="1128" width="25" height="40" rx="4"/><text transform="translate(528 1148) rotate(-90)"><tspan x="0" y="-3.7">Convenience</tspan><tspan x="0" y="1.5">of Food</tspan><tspan x="0" y="6.7">Offerings</tspan></text></g>
<g id="n62" class="nd fd"><rect x="553.5" y="1128" width="25" height="40" rx="4"/><text transform="translate(566 1148) rotate(-90)"><tspan x="0" y="-3.7">Cost of</tspan><tspan x="0" y="1.5">Healthy</tspan><tspan x="0" y="6.7">Food</tspan></text></g>
<g id="n63" class="nd fd"><rect x="587.5" y="1128" width="25" height="40" rx="4"/><text transform="translate(600 1148) rotate(-90)"><tspan x="0" y="-1.1">Food</tspan><tspan x="0" y="4.1">Variety</tspan></text></g>
<g id="n64" class="nd fd"><rect x="618.5" y="1128" width="25" height="40" rx="4"/><text transform="translate(631 1148) rotate(-90)"><tspan x="0" y="-1.1">Alcohol</tspan><tspan x="0" y="4.1">Consumption</tspan></text></g>
<g id="n65" class="nd fd"><rect x="650.5" y="1128" width="25" height="40" rx="4"/><text transform="translate(663 1148) rotate(-90)"><tspan x="0" y="-3.7">Palatability</tspan><tspan x="0" y="1.5">of Food</tspan><tspan x="0" y="6.7">Offerings</tspan></text></g>
<g id="n66" class="nd fd"><rect x="687.5" y="1128" width="25" height="40" rx="4"/><text transform="translate(700 1148) rotate(-90)"><tspan x="0" y="-1.1">Food</tspan><tspan x="0" y="4.1">Marketing</tspan></text></g>
<g id="n67" class="nd fd"><rect x="722.5" y="1128" width="25" height="40" rx="4"/><text transform="translate(735 1148) rotate(-90)"><tspan x="0" y="-1.1">Portion</tspan><tspan x="0" y="4.1">Size</tspan></text></g>
<g id="n68" class="nd fd"><rect x="754.5" y="1128" width="25" height="40" rx="4"/><text transform="translate(767 1148) rotate(-90)"><tspan x="0" y="-1.1">Level of</tspan><tspan x="0" y="4.1">Eating Out</tspan></text></g>
<g id="n69" class="nd fd"><rect x="462.5" y="1047" width="25" height="40" rx="4"/><text transform="translate(475 1067) rotate(-90)"><tspan x="0" y="-1.1">Tendency</tspan><tspan x="0" y="4.1">to Graze</tspan></text></g>
<g id="n70" class="nd fd"><rect x="534.5" y="1181" width="25" height="40" rx="4"/><text transform="translate(547 1201) rotate(-90)"><tspan x="0" y="-3.7">Standardisation</tspan><tspan x="0" y="1.5">of Food</tspan><tspan x="0" y="6.7">Offerings</tspan></text></g>
<g id="n71" class="nd pu"><rect x="642" y="1023" width="26" height="40" rx="4"/><text transform="translate(655 1043) rotate(-90)"><tspan x="0" y="-3.7">Energy</tspan><tspan x="0" y="1.5">Density of</tspan><tspan x="0" y="6.7">Food &amp; Drink</tspan></text></g>
<g id="n72" class="nd so"><rect x="189.5" y="1043" width="25" height="40" rx="4"/><text transform="translate(202 1063) rotate(-90)"><tspan x="0" y="-3.7">Children's</tspan><tspan x="0" y="1.5">Pocket</tspan><tspan x="0" y="6.7">Money</tspan></text></g>
<g id="n73" class="nd so"><rect x="234.5" y="1043" width="25" height="40" rx="4"/><text transform="translate(247 1063) rotate(-90)"><tspan x="0" y="-1.1">TV</tspan><tspan x="0" y="4.1">Watching</tspan></text></g>
<g id="n74" class="nd so2"><rect x="281.5" y="1043" width="25" height="40" rx="4"/><text transform="translate(294 1063) rotate(-90)"><tspan x="0" y="-1.1">Parental</tspan><tspan x="0" y="4.1">Control</tspan></text></g>
<g id="n75" class="nd so"><rect x="322.5" y="1043" width="25" height="40" rx="4"/><text transform="translate(335 1063) rotate(-90)"><tspan x="0" y="-1.1">Parental</tspan><tspan x="0" y="4.1">Modelling</tspan></text></g>
<g id="n76" class="nd so"><rect x="364.5" y="1043" width="25" height="40" rx="4"/><text transform="translate(377 1063) rotate(-90)"><tspan x="0" y="-3.7">Children's</tspan><tspan x="0" y="1.5">Control of</tspan><tspan x="0" y="6.7">Food</tspan></text></g>
<g id="n77" class="nd so"><rect x="324.5" y="1125" width="25" height="40" rx="4"/><text transform="translate(337 1145) rotate(-90)"><tspan x="0" y="-3.7">Social</tspan><tspan x="0" y="1.5">Acceptability</tspan><tspan x="0" y="6.7">of Smoking</tspan></text></g>
<g id="n78" class="nd so"><rect x="362.5" y="1125" width="25" height="40" rx="4"/><text transform="translate(375 1145) rotate(-90)"><tspan x="0" y="-1.1">Smoking</tspan><tspan x="0" y="4.1">Cessation</tspan></text></g>
<g id="n79" class="nd m"><rect x="169.5" y="1243" width="25" height="40" rx="4"/><text transform="translate(182 1263) rotate(-90)"><tspan x="0" y="-3.7">Exposure</tspan><tspan x="0" y="1.5">to Food</tspan><tspan x="0" y="6.7">Advertising</tspan></text></g>
<g id="n80" class="nd so"><rect x="222.5" y="1240" width="25" height="40" rx="4"/><text transform="translate(235 1260) rotate(-90)"><tspan x="0" y="-3.7">Sociocultural</tspan><tspan x="0" y="1.5">Valuation</tspan><tspan x="0" y="6.7">of Food</tspan></text></g>
<g id="n81" class="nd m"><rect x="181.5" y="1294" width="25" height="40" rx="4"/><text transform="translate(194 1314) rotate(-90)"><tspan x="0" y="-1.1">Media</tspan><tspan x="0" y="4.1">Availability</tspan></text></g>
<g id="n82" class="nd m"><rect x="224.5" y="1296" width="25" height="40" rx="4"/><text transform="translate(237 1316) rotate(-90)"><tspan x="0" y="-1.1">Media</tspan><tspan x="0" y="4.1">Consumption</tspan></text></g>
<g id="n83" class="nd so"><rect x="268.5" y="1272" width="25" height="40" rx="4"/><text transform="translate(281 1292) rotate(-90)"><tspan x="0" y="-3.7">Importance</tspan><tspan x="0" y="1.5">of Food</tspan><tspan x="0" y="6.7">Culture</tspan></text></g>
<g id="n84" class="nd so"><rect x="268.5" y="1322" width="25" height="40" rx="4"/><text transform="translate(281 1342) rotate(-90)"><tspan x="0" y="-3.7">Social</tspan><tspan x="0" y="1.5">Approval of</tspan><tspan x="0" y="6.7">Thinness</tspan></text></g>
<g id="n85" class="nd so"><rect x="313.5" y="1293" width="25" height="40" rx="4"/><text transform="translate(326 1313) rotate(-90)"><tspan x="0" y="-1.1">Peer</tspan><tspan x="0" y="4.1">Pressure</tspan></text></g>
<g id="n86" class="nd so2"><rect x="224.5" y="1368" width="25" height="40" rx="4"/><text transform="translate(237 1388) rotate(-90)"><tspan x="0" y="-3.7">Level of</tspan><tspan x="0" y="1.5">Social</tspan><tspan x="0" y="6.7">Support</tspan></text></g>
<g id="n87" class="nd so"><rect x="314.5" y="1350" width="25" height="44" rx="4"/><text transform="translate(327 1372) rotate(-90)"><tspan x="0" y="-3.7">Sociocultural</tspan><tspan x="0" y="1.5">Pressure for</tspan><tspan x="0" y="6.7">Dieting</tspan></text></g>
<g id="n88" class="nd m"><rect x="178" y="1420" width="28" height="40" rx="4"/><text transform="translate(192 1440) rotate(-90)"><tspan x="0" y="1.5">Education</tspan></text></g>
<g id="n89" class="nd ec"><rect x="337.5" y="1451" width="25" height="40" rx="4"/><text transform="translate(350 1471) rotate(-90)"><tspan x="0" y="-1.1">Female</tspan><tspan x="0" y="4.1">Employment</tspan></text></g>
<g id="n90" class="nd ec"><rect x="382.5" y="1462" width="27" height="42" rx="4"/><text transform="translate(396 1483) rotate(-90)"><tspan x="0" y="-3.7">Societal</tspan><tspan x="0" y="1.5">Pressure</tspan><tspan x="0" y="6.7">to Consume</tspan></text></g>
<g id="n91" class="nd ec"><rect x="407.5" y="1355" width="25" height="40" rx="4"/><text transform="translate(420 1375) rotate(-90)"><tspan x="0" y="-3.7">Pressure to</tspan><tspan x="0" y="1.5">Reduce</tspan><tspan x="0" y="6.7">Costs</tspan></text></g>
<g id="n92" class="nd ec"><rect x="442.5" y="1357" width="25" height="40" rx="4"/><text transform="translate(455 1377) rotate(-90)"><tspan x="0" y="-3.7">Pressure for</tspan><tspan x="0" y="1.5">Growth and</tspan><tspan x="0" y="6.7">Profitability</tspan></text></g>
<g id="n93" class="nd ec"><rect x="442.5" y="1476" width="25" height="40" rx="4"/><text transform="translate(455 1496) rotate(-90)"><tspan x="0" y="1.5">Globalisation</tspan></text></g>
<g id="n94" class="nd ec"><rect x="491.5" y="1353" width="25" height="44" rx="4"/><text transform="translate(504 1375) rotate(-90)"><tspan x="0" y="-3.7">Pressure to</tspan><tspan x="0" y="1.5">Increase</tspan><tspan x="0" y="6.7">Efficiency</tspan></text></g>
<g id="n95" class="nd ec"><rect x="537.5" y="1330" width="25" height="40" rx="4"/><text transform="translate(550 1350) rotate(-90)"><tspan x="0" y="-1.1">Cost of</tspan><tspan x="0" y="4.1">Ingredients</tspan></text></g>
<g id="n96" class="nd ec"><rect x="587.5" y="1302" width="25" height="40" rx="4"/><text transform="translate(600 1322) rotate(-90)"><tspan x="0" y="-1.1">Level of</tspan><tspan x="0" y="4.1">Processing</tspan></text></g>
<g id="n97" class="nd ec"><rect x="537.5" y="1383" width="25" height="40" rx="4"/><text transform="translate(550 1403) rotate(-90)"><tspan x="0" y="-3.7">Pressure to</tspan><tspan x="0" y="1.5">Cater for</tspan><tspan x="0" y="6.7">Acquired Tastes</tspan></text></g>
<g id="n98" class="nd ec"><rect x="587.5" y="1358" width="25" height="40" rx="4"/><text transform="translate(600 1378) rotate(-90)"><tspan x="0" y="1.5">De-skilling</tspan></text></g>
<g id="n99" class="nd ec"><rect x="634.5" y="1381" width="27" height="42" rx="4"/><text transform="translate(648 1402) rotate(-90)"><tspan x="0" y="-3.7">Market Price</tspan><tspan x="0" y="1.5">of Food</tspan><tspan x="0" y="6.7">Offerings</tspan></text></g>
<g id="n100" class="nd ec"><rect x="587.5" y="1410" width="25" height="40" rx="4"/><text transform="translate(600 1430) rotate(-90)"><tspan x="0" y="-1.1">Social</tspan><tspan x="0" y="4.1">Inequality</tspan></text></g>
<g id="n101" class="nd ec"><rect x="537.5" y="1457" width="25" height="40" rx="4"/><text transform="translate(550 1477) rotate(-90)"><tspan x="0" y="-1.1">Level of</tspan><tspan x="0" y="4.1">Employment</tspan></text></g>
<g id="n102" class="nd ec"><rect x="522" y="1236" width="26" height="44" rx="4"/><text transform="translate(535 1258) rotate(-90)"><tspan x="0" y="-3.7">Consumer</tspan><tspan x="0" y="1.5">Demand for</tspan><tspan x="0" y="6.7">Convenience</tspan></text></g>
<g id="n103" class="nd ec"><rect x="557" y="1254" width="26" height="44" rx="4"/><text transform="translate(570 1276) rotate(-90)"><tspan x="0" y="-3.7">Pressure</tspan><tspan x="0" y="1.5">for Market</tspan><tspan x="0" y="6.7">Share</tspan></text></g>
<g id="n104" class="nd fd"><rect x="649.5" y="1263" width="25" height="40" rx="4"/><text transform="translate(662 1283) rotate(-90)"><tspan x="0" y="-3.7">Level of</tspan><tspan x="0" y="1.5">Food</tspan><tspan x="0" y="6.7">Regulation</tspan></text></g>
<g id="n105" class="nd ec"><rect x="727.5" y="1243" width="25" height="40" rx="4"/><text transform="translate(740 1263) rotate(-90)"><tspan x="0" y="-3.7">Cost of</tspan><tspan x="0" y="1.5">Food</tspan><tspan x="0" y="6.7">Production</tspan></text></g>
<g id="n106" class="nd ec"><rect x="757.5" y="1336" width="25" height="40" rx="4"/><text transform="translate(770 1356) rotate(-90)"><tspan x="0" y="-1.1">Purchasing</tspan><tspan x="0" y="4.1">Power</tspan></text></g>
<g id="n107" class="nd ec"><rect x="667.5" y="1573" width="25" height="40" rx="4"/><text transform="translate(680 1593) rotate(-90)"><tspan x="0" y="-3.7">Demand</tspan><tspan x="0" y="1.5">for</tspan><tspan x="0" y="6.7">Health</tspan></text></g>
</g>

<g id="legend" class="lg">
<rect x="832" y="180" width="24" height="70" rx="5" fill="#dcdcd2"/><text transform="translate(847 215) rotate(-90)">Media</text>
<rect x="862" y="180" width="24" height="70" rx="5" fill="#f0ddbb"/><text transform="translate(877 215) rotate(-90)">Social</text>
<rect x="892" y="180" width="24" height="70" rx="5" fill="#f4ee9f" style="stroke:#b7a640"/><text transform="translate(907 215) rotate(-90)">Psychological</text>
<rect x="921" y="180" width="24" height="70" rx="5" fill="#dfe6d8"/><text transform="translate(936 215) rotate(-90)">Economic</text>
<rect x="950" y="180" width="24" height="70" rx="5" fill="#d3cfe0"/><text transform="translate(965 215) rotate(-90)">Food</text>
<rect x="980" y="180" width="24" height="70" rx="5" fill="#f2c59b"/><text transform="translate(995 215) rotate(-90)">Activity</text>
<rect x="1009" y="180" width="24" height="70" rx="5" fill="#ececec"/><text transform="translate(1024 215) rotate(-90)">Infrastructure</text>
<rect x="1038" y="180" width="24" height="70" rx="5" fill="#ddeaef"/><text transform="translate(1053 215) rotate(-90)">Developmental</text>
<rect x="1068" y="180" width="24" height="70" rx="5" fill="#b4c6db"/><text transform="translate(1083 215) rotate(-90)">Biological</text>
<rect x="1097" y="180" width="24" height="70" rx="5" fill="#c3c9d6"/><text transform="translate(1112 215) rotate(-90)">Medical</text>
<line x1="1082" y1="383" x2="1082" y2="262" stroke="#333" stroke-width="1" marker-end="url(#la)"/>
<line x1="1111" y1="383" x2="1111" y2="268" stroke="#333" stroke-width="1" stroke-dasharray="3 2" marker-end="url(#ls)"/>
<text transform="translate(1076 328) rotate(-90)" style="font-size:9px">Positive Influence</text>
<text transform="translate(1104 328) rotate(-90)" style="font-size:9px">Negative Influence</text>
</g>

<g id="title">
<text transform="translate(98 1688) rotate(-90)" font-family="Liberation Sans, Arial, sans-serif" font-size="24" font-weight="bold" fill="#222">Foresight</text>
<text transform="translate(131 1688) rotate(-90)" font-family="Liberation Sans, Arial, sans-serif" font-size="23" fill="#333">Obesity System Map</text>
</g>
</svg>
